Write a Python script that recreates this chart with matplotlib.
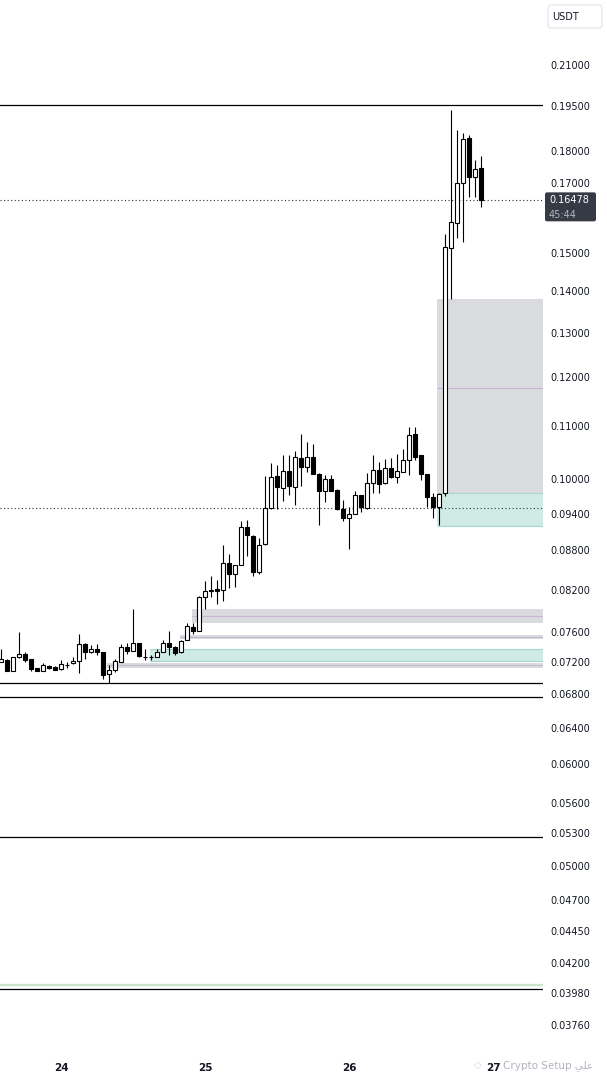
"""
plot.py - Biểu đồ nến 1H (cặp USDT) với các vùng hỗ trợ / kháng cự
====================================================================
Vẽ lại ảnh chụp TradingView: nến giờ từ ngày 24 đến 27, trục giá log ở bên phải,
các vùng xám / xanh ngọc, các đường ngang và nhãn giá hiện tại.
Lưu ra out.png (607x1080).
"""

import matplotlib
matplotlib.use('Agg')  # Không cần cửa sổ GUI
import matplotlib.pyplot as plt
from matplotlib.patches import Rectangle, FancyBboxPatch
from matplotlib.ticker import NullLocator, NullFormatter
from matplotlib.transforms import IdentityTransform

# ============================================================
# Dữ liệu nến
# ============================================================

opens = [0.07208, 0.07230, 0.07093, 0.07265, 0.07304, 0.07239, 0.07127, 0.07093, 0.07157, 0.07136,
         0.07111, 0.07172, 0.07187, 0.07213, 0.07440, 0.07330, 0.07380, 0.07330, 0.07050, 0.07100,
         0.07210, 0.07400, 0.07350, 0.07450, 0.07270, 0.07272, 0.07270, 0.07340, 0.07460, 0.07400,
         0.07330, 0.07490, 0.07670, 0.07620, 0.08100, 0.08180, 0.08205, 0.08196, 0.08600, 0.08440,
         0.08580, 0.09171, 0.09034, 0.08460, 0.08895, 0.09489, 0.10054, 0.09840, 0.10150, 0.09850,
         0.10380, 0.10220, 0.10400, 0.10100, 0.09790, 0.10010, 0.09810, 0.09473, 0.09320, 0.09387,
         0.09712, 0.09489, 0.09923, 0.10158, 0.09923, 0.10194, 0.10042, 0.10122, 0.10351, 0.10840,
         0.10439, 0.10085, 0.09678, 0.09505, 0.09747, 0.15119, 0.15812, 0.16987, 0.18414, 0.17188,
         0.17471]
highs = [0.07370, 0.07240, 0.07270, 0.07602, 0.07338, 0.07245, 0.07130, 0.07196, 0.07170, 0.07150,
         0.07230, 0.07210, 0.07270, 0.07575, 0.07460, 0.07430, 0.07440, 0.07335, 0.07160, 0.07240,
         0.07440, 0.07450, 0.07920, 0.07455, 0.07370, 0.07290, 0.07370, 0.07490, 0.07610, 0.07420,
         0.07490, 0.07730, 0.07720, 0.08110, 0.08330, 0.08410, 0.08350, 0.08884, 0.08750, 0.08580,
         0.09275, 0.09300, 0.09040, 0.08990, 0.10054, 0.10300, 0.10250, 0.10440, 0.10440, 0.10520,
         0.10840, 0.10680, 0.10650, 0.10110, 0.10070, 0.10070, 0.09815, 0.09631, 0.09505, 0.09788,
         0.09715, 0.10108, 0.10439, 0.10314, 0.10359, 0.10378, 0.10452, 0.10546, 0.10983, 0.10983,
         0.10440, 0.10088, 0.09758, 0.09747, 0.15511, 0.19373, 0.18691, 0.18580, 0.18525, 0.17713,
         0.17840]
lows = [0.07200, 0.07085, 0.07090, 0.07260, 0.07200, 0.07093, 0.07090, 0.07090, 0.07120, 0.07100,
        0.07100, 0.07130, 0.07185, 0.07060, 0.07240, 0.07320, 0.07290, 0.06990, 0.06940, 0.07080,
        0.07205, 0.07310, 0.07345, 0.07270, 0.07230, 0.07230, 0.07268, 0.07338, 0.07290, 0.07290,
        0.07328, 0.07488, 0.07580, 0.07615, 0.07925, 0.08100, 0.07990, 0.08040, 0.08220, 0.08245,
        0.08575, 0.08715, 0.08402, 0.08433, 0.08890, 0.09485, 0.09477, 0.09614, 0.09718, 0.09545,
        0.09881, 0.10132, 0.10085, 0.09209, 0.09602, 0.09785, 0.09460, 0.09280, 0.08815, 0.09385,
        0.09431, 0.09485, 0.09747, 0.09747, 0.09920, 0.10013, 0.09923, 0.10120, 0.10072, 0.10346,
        0.09982, 0.09505, 0.09330, 0.09209, 0.09700, 0.13807, 0.15392, 0.15299, 0.16566, 0.16566,
        0.16289]
closes = [0.07243, 0.07093, 0.07265, 0.07304, 0.07230, 0.07119, 0.07093, 0.07170, 0.07132, 0.07106,
          0.07179, 0.07168, 0.07217, 0.07436, 0.07340, 0.07380, 0.07340, 0.07040, 0.07100, 0.07220,
          0.07400, 0.07350, 0.07450, 0.07280, 0.07272, 0.07270, 0.07340, 0.07460, 0.07400, 0.07320,
          0.07480, 0.07680, 0.07620, 0.08100, 0.08180, 0.08200, 0.08185, 0.08596, 0.08440, 0.08580,
          0.09171, 0.09040, 0.08460, 0.08890, 0.09490, 0.10040, 0.09850, 0.10150, 0.09880, 0.10400,
          0.10210, 0.10400, 0.10090, 0.09790, 0.10010, 0.09790, 0.09470, 0.09320, 0.09388, 0.09712,
          0.09505, 0.09923, 0.10158, 0.09906, 0.10194, 0.10042, 0.10139, 0.10341, 0.10820, 0.10410,
          0.10085, 0.09678, 0.09505, 0.09729, 0.15146, 0.15840, 0.16987, 0.18382, 0.17170, 0.17429,
          0.16478]

# Nhãn ngày trên trục thời gian (vị trí = chỉ số nến đầu ngày)
day_labels = ['24', '25', '26', '27']
day_first_candle = [10, 34, 58, 82]

# Các mức giá hiển thị trên trục phải
price_ticks = [0.21, 0.195, 0.18, 0.17, 0.15, 0.14, 0.13, 0.12, 0.11, 0.10, 0.094, 0.088,
               0.082, 0.076, 0.072, 0.068, 0.064, 0.060, 0.056, 0.053, 0.050, 0.047, 0.0445,
               0.042, 0.0398, 0.0376]

# Vùng giá (bắt đầu từ nến, đáy, đỉnh, đường giữa, loại)
zone_start = [72.7, 72.7, 31.8, 29.8, 24.8, 17.7]
zone_low = [0.09758, 0.09192, 0.07729, 0.07503, 0.07216, 0.07130]
zone_high = [0.13807, 0.09758, 0.07922, 0.07561, 0.07373, 0.07194]
zone_mid = [0.11765, None, 0.07826, 0.07530, None, 0.07160]
zone_kind = ['gray', 'teal', 'gray', 'gray', 'teal', 'gray']

# Đường ngang
solid_levels = [0.1955, 0.06935, 0.06763, 0.05262, 0.04012]
dotted_levels = [0.16478, 0.09499]
green_level = 0.04038

last_price = closes[-1]
countdown = '45:44'

# ============================================================
# Cấu hình hình vẽ
# ============================================================

W, H = 607, 1080
PLOT_RIGHT = 543     # pixel: mép phải vùng nến
PLOT_BOTTOM = 1052   # pixel: mép dưới vùng nến (tính từ trên)
TEXT = '#131722'
GRAY = '#dadbde'
TEAL = '#d0ebe5'
TEAL_EDGE = '#a9d6c8'
PURPLE = '#c7b6d2'

plt.rcParams['font.family'] = ['DejaVu Sans']

fig = plt.figure(figsize=(W / 100, H / 100), dpi=100)
fig.patch.set_facecolor('white')
ax = fig.add_axes([0, (H - PLOT_BOTTOM) / H, PLOT_RIGHT / W, PLOT_BOTTOM / H])
ax.set_facecolor('white')

# Mỗi nến cách nhau 6 px, nến 0 nằm ở x = 1 px
ax.set_xlim(-1 / 6, (PLOT_RIGHT - 1) / 6)
ax.set_yscale('log')
ax.set_ylim(0.03582, 0.23595)

# ---- Vùng giá ----
x_right = (PLOT_RIGHT - 1) / 6
for x0, lo, hi, mid, kind in zip(zone_start, zone_low, zone_high, zone_mid, zone_kind):
    if kind == 'teal':
        ax.add_patch(Rectangle((x0, lo), x_right - x0, hi - lo, facecolor=TEAL,
                               edgecolor='none', zorder=1))
        ax.hlines([lo, hi], x0, x_right, color=TEAL_EDGE, lw=0.8, zorder=1.5)
    else:
        ax.add_patch(Rectangle((x0, lo), x_right - x0, hi - lo, facecolor=GRAY,
                               edgecolor='none', zorder=1))
    if mid is not None:
        ax.hlines(mid, x0, x_right, color=PURPLE, lw=0.8, zorder=1.5)

# ---- Đường ngang ----
for lv in solid_levels:
    ax.axhline(lv, color='black', lw=0.9, zorder=2)
for lv in dotted_levels:
    ax.axhline(lv, color='#333333', lw=0.8, linestyle=(0, (1, 2.2)), zorder=2)
ax.axhline(green_level, color='#c8e6c9', lw=1.6, zorder=1.8)

# ---- Nến ----
n = len(opens)
xs = list(range(n))
ax.vlines(xs, lows, highs, color='black', lw=0.8, zorder=3)
body_w = 0.68
for i in xs:
    o, c = opens[i], closes[i]
    face = 'white' if c >= o else 'black'
    ax.add_patch(Rectangle((i - body_w / 2, min(o, c)), body_w, abs(c - o),
                           facecolor=face, edgecolor='black', lw=0.8, zorder=4))

# ---- Trục ----
for s in ax.spines.values():
    s.set_visible(False)

ax.set_yticks(price_ticks)
ax.set_yticklabels([f'{p:.5f}' for p in price_ticks])
ax.yaxis.set_minor_locator(NullLocator())
ax.yaxis.set_minor_formatter(NullFormatter())
ax.yaxis.tick_right()
ax.tick_params(axis='y', length=0, pad=5.5, labelsize=7, labelcolor=TEXT)

ax.set_xticks(day_first_candle)
ax.set_xticklabels(day_labels, fontweight='bold')
ax.tick_params(axis='x', length=0, pad=8, labelsize=7.5, labelcolor=TEXT)

# ---- Nhãn giá hiện tại ----
fig.canvas.draw()
ypix = ax.transData.transform((0, last_price))[1]
fig.patches.append(FancyBboxPatch((545, ypix - 21), 51, 29,
                                  boxstyle='round,pad=0,rounding_size=2',
                                  facecolor='#363a45', edgecolor='none',
                                  transform=IdentityTransform(), figure=fig))
fig.text(549 / W, ypix / H, f'{last_price:.5f}', color='white', fontsize=7,
         va='center', ha='left')
fig.text(549 / W, (ypix - 15) / H, countdown, color='#b2b5be', fontsize=7,
         va='center', ha='left')

# ---- Ô đơn vị USDT ----
fig.patches.append(FancyBboxPatch((548, H - 28), 54, 23,
                                  boxstyle='round,pad=0,rounding_size=3',
                                  facecolor='white', edgecolor='#e0e3eb', lw=0.8,
                                  transform=IdentityTransform(), figure=fig))
fig.text(552 / W, 1 - 16.5 / H, 'USDT', color=TEXT, fontsize=7, va='center', ha='left')

# ---- Watermark ----
fig.text(474 / W, 1 - 1065 / H, '◇', color='#d1d4dc', fontsize=7, va='center', ha='left')
fig.text(503 / W, 1 - 1066 / H, 'Crypto Setup \ufef2\ufee0\ufecb', color='#b2b5be',
         fontsize=7.5, va='center', ha='left', family=['DejaVu Sans'])

fig.savefig('out.png', dpi=100)
plt.close(fig)
print('[+] Đã lưu: out.png')
